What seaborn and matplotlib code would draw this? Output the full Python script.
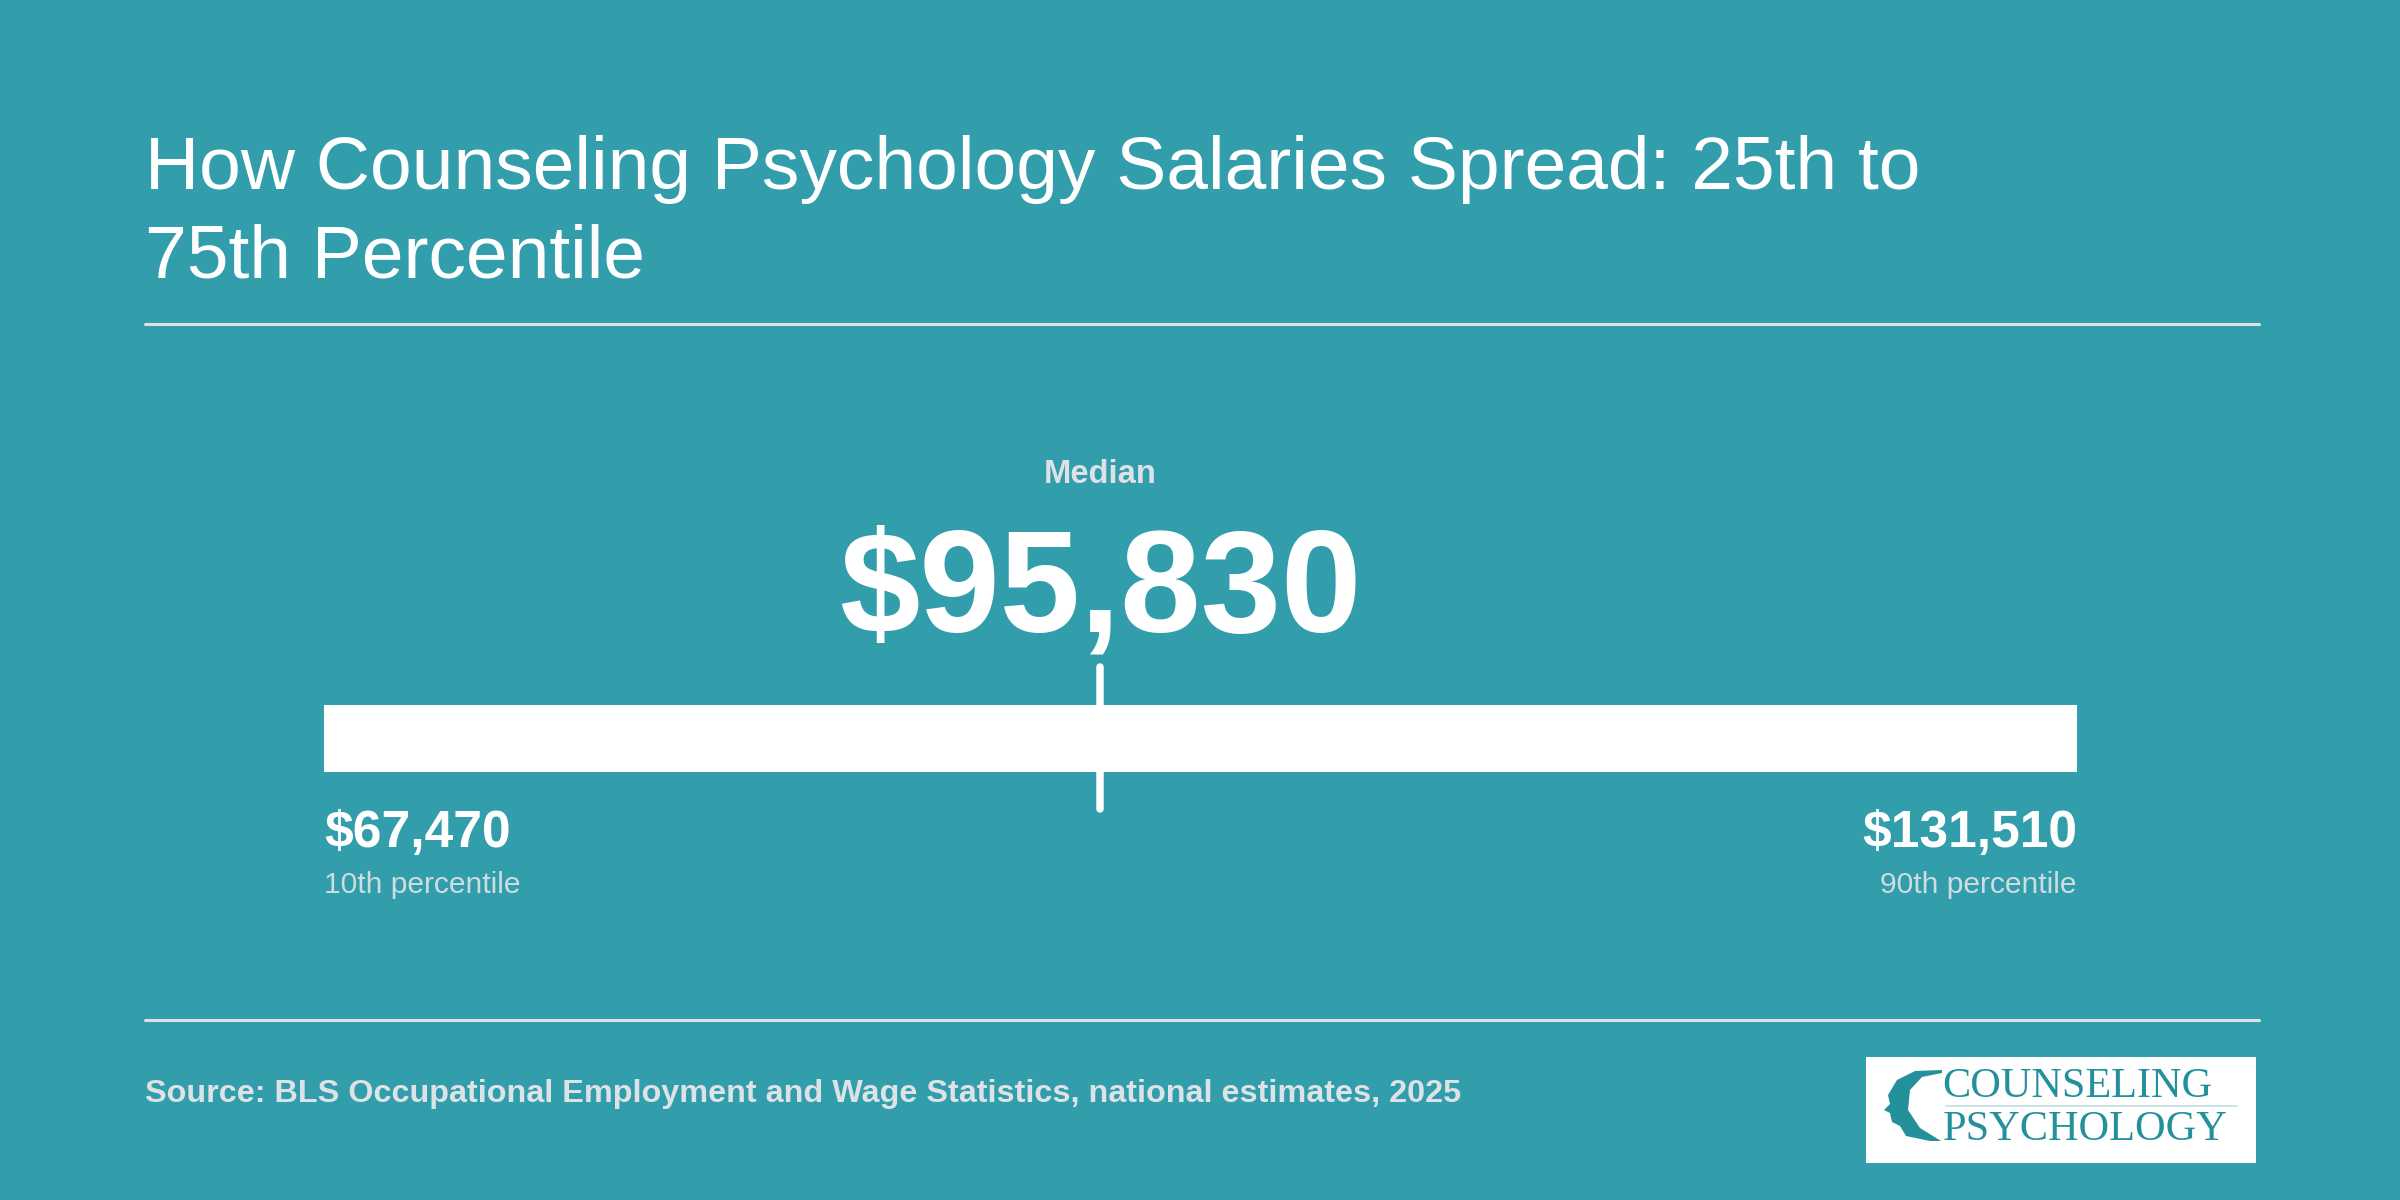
import pandas as pd
import matplotlib.pyplot as plt
import matplotlib.transforms as mtransforms
from matplotlib.patches import Rectangle, Polygon
import seaborn as sns

# Salary data (BLS OEWS, counseling psychologists)
title = "How Counseling Psychology Salaries Spread: 25th to\n75th Percentile"
percentile_names = ["10th percentile", "Median", "90th percentile"]
salaries = [67470, 95830, 131510]
source = "Source: BLS Occupational Employment and Wage Statistics, national estimates, 2025"

BG = "#329dab"
LIGHT = "#dde2e6"
SUB = "#cfdde1"
LOGO_TEAL = "#23909b"

sns.set_theme(style="white")
plt.rcParams["font.family"] = ["Liberation Sans", "DejaVu Sans"]

W, H = 2400, 1200
fig = plt.figure(figsize=(12, 6), dpi=200, facecolor=BG)


def fx(x):
    return x / W


def fy(y):
    return 1 - y / H


# Title (baseline of the last line) and dividers
fig.text(fx(145), fy(277), title, fontsize=27, color="white",
         va="baseline", ha="left", linespacing=1.36)
for yy in (324, 1020):
    fig.add_artist(plt.Line2D([fx(145), fx(2259)], [fy(yy), fy(yy)],
                              color=LIGHT, lw=1.1, transform=fig.transFigure))

# Range bar: axes spans the 10th-90th percentile range
low, med, high = salaries
ax = fig.add_axes([fx(324), fy(772), fx(2077) - fx(324), (772 - 705) / H])
ax.set_facecolor("none")
df = pd.DataFrame({"band": ["range"], "salary": [high]})
sns.barplot(data=df, x="salary", y="band", color="white", saturation=1,
            width=1.0, linewidth=0, ax=ax)
ax.set_xlim(low, high)
ax.set_ylim(0.5, -0.5)
ax.axis("off")

trans = mtransforms.blended_transform_factory(ax.transData, ax.transAxes)
ax.plot([med, med], [-0.55, 1.57], transform=trans, color="white", lw=2.7,
        solid_capstyle="round", clip_on=False)

ax.text(med, 4.31, percentile_names[1], transform=trans, ha="center",
        va="baseline", fontsize=11.8, fontweight="bold", color=LIGHT)
ax.text(med, 2.09, f"${med:,}", transform=trans, ha="center",
        va="baseline", fontsize=52, fontweight="bold", color="white")

for val, name, ha in [(low, percentile_names[0], "left"),
                      (high, percentile_names[2], "right")]:
    ax.text(val, -1.12, f"${val:,}", transform=trans, ha=ha, va="baseline",
            fontsize=18.6, fontweight="bold", color="white")
    ax.text(val, -1.806, name, transform=trans, ha=ha, va="baseline",
            fontsize=10.8, color=SUB)

# Source
fig.text(fx(145), fy(1102), source, fontsize=11.65, fontweight="bold",
         color=LIGHT, va="baseline", ha="left")

# Logo
fig.add_artist(Rectangle((fx(1866), fy(1163)), fx(2256) - fx(1866),
                         (1163 - 1057) / H, transform=fig.transFigure,
                         facecolor="white", edgecolor="none"))
head = [(1942, 1070), (1915, 1071), (1897, 1080), (1888, 1095), (1890, 1104),
        (1884, 1110), (1890, 1113), (1892, 1122), (1900, 1126), (1906, 1136),
        (1930, 1141), (1941, 1141), (1920, 1128), (1908, 1110), (1910, 1090),
        (1922, 1077), (1942, 1073)]
fig.add_artist(Polygon([(fx(x), fy(y)) for x, y in head], closed=True,
                       transform=fig.transFigure, facecolor=LOGO_TEAL,
                       edgecolor="none"))
fig.text(fx(1942), fy(1097), "COUNSELING", fontsize=15.2,
         family="Liberation Serif", color=LOGO_TEAL, va="baseline", ha="left")
fig.add_artist(plt.Line2D([fx(1946), fx(2237)], [fy(1106), fy(1106)],
                          color="#bfe0e3", lw=0.6, transform=fig.transFigure))
fig.text(fx(1943), fy(1140), "PSYCHOLOGY", fontsize=15.2,
         family="Liberation Serif", color=LOGO_TEAL, va="baseline", ha="left")

fig.savefig("out.png", dpi=200, facecolor=BG)
